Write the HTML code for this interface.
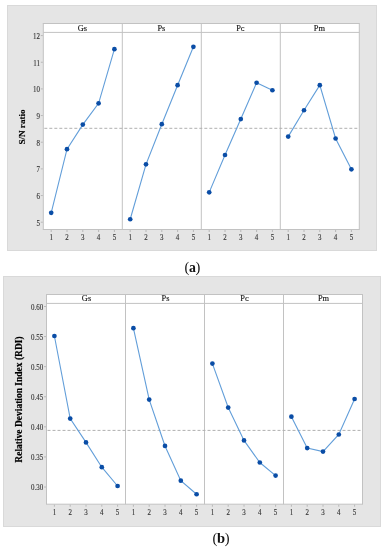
<!DOCTYPE html>
<html><head><meta charset="utf-8"><style>
html,body{margin:0;padding:0;background:#fff;width:387px;height:550px;overflow:hidden}
svg{display:block}
text{font-family:"Liberation Serif",serif}
</style></head><body>
<svg width="387" height="550" viewBox="0 0 387 550">
<rect width="387" height="550" fill="#fff"/>
<rect x="7" y="5" width="370" height="246" fill="#e5e5e5"/>
<rect x="7.5" y="5.5" width="369" height="245" fill="none" stroke="#d9d9d9" stroke-width="1"/>
<rect x="43.30" y="23.50" width="316.00" height="206.00" fill="#fff"/>
<line x1="42.80" y1="23.50" x2="359.80" y2="23.50" stroke="#c2c2c2" stroke-width="1"/>
<line x1="43.30" y1="32.40" x2="359.30" y2="32.40" stroke="#c2c2c2" stroke-width="1"/>
<line x1="42.80" y1="229.50" x2="359.80" y2="229.50" stroke="#c2c2c2" stroke-width="1"/>
<line x1="43.30" y1="23.50" x2="43.30" y2="229.50" stroke="#c2c2c2" stroke-width="1"/>
<line x1="122.30" y1="23.50" x2="122.30" y2="229.50" stroke="#c2c2c2" stroke-width="1"/>
<line x1="201.30" y1="23.50" x2="201.30" y2="229.50" stroke="#c2c2c2" stroke-width="1"/>
<line x1="280.30" y1="23.50" x2="280.30" y2="229.50" stroke="#c2c2c2" stroke-width="1"/>
<line x1="359.30" y1="23.50" x2="359.30" y2="229.50" stroke="#c2c2c2" stroke-width="1"/>
<line x1="40.80" y1="222.20" x2="42.80" y2="222.20" stroke="#b8b8b8" stroke-width="1"/>
<text transform="translate(40.00,225.60) scale(0.85,1)" text-anchor="end" font-size="8.2" fill="#333333" stroke="#333333" stroke-width="0.12">5</text>
<line x1="40.80" y1="195.54" x2="42.80" y2="195.54" stroke="#b8b8b8" stroke-width="1"/>
<text transform="translate(40.00,198.94) scale(0.85,1)" text-anchor="end" font-size="8.2" fill="#333333" stroke="#333333" stroke-width="0.12">6</text>
<line x1="40.80" y1="168.88" x2="42.80" y2="168.88" stroke="#b8b8b8" stroke-width="1"/>
<text transform="translate(40.00,172.28) scale(0.85,1)" text-anchor="end" font-size="8.2" fill="#333333" stroke="#333333" stroke-width="0.12">7</text>
<line x1="40.80" y1="142.22" x2="42.80" y2="142.22" stroke="#b8b8b8" stroke-width="1"/>
<text transform="translate(40.00,145.62) scale(0.85,1)" text-anchor="end" font-size="8.2" fill="#333333" stroke="#333333" stroke-width="0.12">8</text>
<line x1="40.80" y1="115.56" x2="42.80" y2="115.56" stroke="#b8b8b8" stroke-width="1"/>
<text transform="translate(40.00,118.96) scale(0.85,1)" text-anchor="end" font-size="8.2" fill="#333333" stroke="#333333" stroke-width="0.12">9</text>
<line x1="40.80" y1="88.90" x2="42.80" y2="88.90" stroke="#b8b8b8" stroke-width="1"/>
<text transform="translate(40.00,92.30) scale(0.85,1)" text-anchor="end" font-size="8.2" fill="#333333" stroke="#333333" stroke-width="0.12">10</text>
<line x1="40.80" y1="62.24" x2="42.80" y2="62.24" stroke="#b8b8b8" stroke-width="1"/>
<text transform="translate(40.00,65.64) scale(0.85,1)" text-anchor="end" font-size="8.2" fill="#333333" stroke="#333333" stroke-width="0.12">11</text>
<line x1="40.80" y1="35.58" x2="42.80" y2="35.58" stroke="#b8b8b8" stroke-width="1"/>
<text transform="translate(40.00,38.98) scale(0.85,1)" text-anchor="end" font-size="8.2" fill="#333333" stroke="#333333" stroke-width="0.12">12</text>
<text x="82.40" y="30.5" text-anchor="middle" font-size="8.4" fill="#1a1a1a" stroke="#1a1a1a" stroke-width="0.15">Gs</text>
<line x1="51.20" y1="230.00" x2="51.20" y2="232.00" stroke="#b8b8b8" stroke-width="1"/>
<text transform="translate(51.20,239.5) scale(0.88,1)" text-anchor="middle" font-size="7.9" fill="#333333" stroke="#333333" stroke-width="0.12">1</text>
<line x1="67.00" y1="230.00" x2="67.00" y2="232.00" stroke="#b8b8b8" stroke-width="1"/>
<text transform="translate(67.00,239.5) scale(0.88,1)" text-anchor="middle" font-size="7.9" fill="#333333" stroke="#333333" stroke-width="0.12">2</text>
<line x1="82.80" y1="230.00" x2="82.80" y2="232.00" stroke="#b8b8b8" stroke-width="1"/>
<text transform="translate(82.80,239.5) scale(0.88,1)" text-anchor="middle" font-size="7.9" fill="#333333" stroke="#333333" stroke-width="0.12">3</text>
<line x1="98.60" y1="230.00" x2="98.60" y2="232.00" stroke="#b8b8b8" stroke-width="1"/>
<text transform="translate(98.60,239.5) scale(0.88,1)" text-anchor="middle" font-size="7.9" fill="#333333" stroke="#333333" stroke-width="0.12">4</text>
<line x1="114.40" y1="230.00" x2="114.40" y2="232.00" stroke="#b8b8b8" stroke-width="1"/>
<text transform="translate(114.40,239.5) scale(0.88,1)" text-anchor="middle" font-size="7.9" fill="#333333" stroke="#333333" stroke-width="0.12">5</text>
<text x="161.40" y="30.5" text-anchor="middle" font-size="8.4" fill="#1a1a1a" stroke="#1a1a1a" stroke-width="0.15">Ps</text>
<line x1="130.20" y1="230.00" x2="130.20" y2="232.00" stroke="#b8b8b8" stroke-width="1"/>
<text transform="translate(130.20,239.5) scale(0.88,1)" text-anchor="middle" font-size="7.9" fill="#333333" stroke="#333333" stroke-width="0.12">1</text>
<line x1="146.00" y1="230.00" x2="146.00" y2="232.00" stroke="#b8b8b8" stroke-width="1"/>
<text transform="translate(146.00,239.5) scale(0.88,1)" text-anchor="middle" font-size="7.9" fill="#333333" stroke="#333333" stroke-width="0.12">2</text>
<line x1="161.80" y1="230.00" x2="161.80" y2="232.00" stroke="#b8b8b8" stroke-width="1"/>
<text transform="translate(161.80,239.5) scale(0.88,1)" text-anchor="middle" font-size="7.9" fill="#333333" stroke="#333333" stroke-width="0.12">3</text>
<line x1="177.60" y1="230.00" x2="177.60" y2="232.00" stroke="#b8b8b8" stroke-width="1"/>
<text transform="translate(177.60,239.5) scale(0.88,1)" text-anchor="middle" font-size="7.9" fill="#333333" stroke="#333333" stroke-width="0.12">4</text>
<line x1="193.40" y1="230.00" x2="193.40" y2="232.00" stroke="#b8b8b8" stroke-width="1"/>
<text transform="translate(193.40,239.5) scale(0.88,1)" text-anchor="middle" font-size="7.9" fill="#333333" stroke="#333333" stroke-width="0.12">5</text>
<text x="240.40" y="30.5" text-anchor="middle" font-size="8.4" fill="#1a1a1a" stroke="#1a1a1a" stroke-width="0.15">Pc</text>
<line x1="209.20" y1="230.00" x2="209.20" y2="232.00" stroke="#b8b8b8" stroke-width="1"/>
<text transform="translate(209.20,239.5) scale(0.88,1)" text-anchor="middle" font-size="7.9" fill="#333333" stroke="#333333" stroke-width="0.12">1</text>
<line x1="225.00" y1="230.00" x2="225.00" y2="232.00" stroke="#b8b8b8" stroke-width="1"/>
<text transform="translate(225.00,239.5) scale(0.88,1)" text-anchor="middle" font-size="7.9" fill="#333333" stroke="#333333" stroke-width="0.12">2</text>
<line x1="240.80" y1="230.00" x2="240.80" y2="232.00" stroke="#b8b8b8" stroke-width="1"/>
<text transform="translate(240.80,239.5) scale(0.88,1)" text-anchor="middle" font-size="7.9" fill="#333333" stroke="#333333" stroke-width="0.12">3</text>
<line x1="256.60" y1="230.00" x2="256.60" y2="232.00" stroke="#b8b8b8" stroke-width="1"/>
<text transform="translate(256.60,239.5) scale(0.88,1)" text-anchor="middle" font-size="7.9" fill="#333333" stroke="#333333" stroke-width="0.12">4</text>
<line x1="272.40" y1="230.00" x2="272.40" y2="232.00" stroke="#b8b8b8" stroke-width="1"/>
<text transform="translate(272.40,239.5) scale(0.88,1)" text-anchor="middle" font-size="7.9" fill="#333333" stroke="#333333" stroke-width="0.12">5</text>
<text x="319.40" y="30.5" text-anchor="middle" font-size="8.4" fill="#1a1a1a" stroke="#1a1a1a" stroke-width="0.15">Pm</text>
<line x1="288.20" y1="230.00" x2="288.20" y2="232.00" stroke="#b8b8b8" stroke-width="1"/>
<text transform="translate(288.20,239.5) scale(0.88,1)" text-anchor="middle" font-size="7.9" fill="#333333" stroke="#333333" stroke-width="0.12">1</text>
<line x1="304.00" y1="230.00" x2="304.00" y2="232.00" stroke="#b8b8b8" stroke-width="1"/>
<text transform="translate(304.00,239.5) scale(0.88,1)" text-anchor="middle" font-size="7.9" fill="#333333" stroke="#333333" stroke-width="0.12">2</text>
<line x1="319.80" y1="230.00" x2="319.80" y2="232.00" stroke="#b8b8b8" stroke-width="1"/>
<text transform="translate(319.80,239.5) scale(0.88,1)" text-anchor="middle" font-size="7.9" fill="#333333" stroke="#333333" stroke-width="0.12">3</text>
<line x1="335.60" y1="230.00" x2="335.60" y2="232.00" stroke="#b8b8b8" stroke-width="1"/>
<text transform="translate(335.60,239.5) scale(0.88,1)" text-anchor="middle" font-size="7.9" fill="#333333" stroke="#333333" stroke-width="0.12">4</text>
<line x1="351.40" y1="230.00" x2="351.40" y2="232.00" stroke="#b8b8b8" stroke-width="1"/>
<text transform="translate(351.40,239.5) scale(0.88,1)" text-anchor="middle" font-size="7.9" fill="#333333" stroke="#333333" stroke-width="0.12">5</text>
<line x1="44.30" y1="128.30" x2="358.30" y2="128.30" stroke="#b0b0b0" stroke-width="1" stroke-dasharray="3 2"/>
<polyline points="51.20,212.87 67.00,149.15 82.80,124.62 98.60,103.30 114.40,49.18" fill="none" stroke="#629ed9" stroke-width="1.1"/>
<polyline points="130.20,219.27 146.00,164.35 161.80,124.22 177.60,85.17 193.40,46.78" fill="none" stroke="#629ed9" stroke-width="1.1"/>
<polyline points="209.20,192.34 225.00,155.02 240.80,119.03 256.60,82.77 272.40,90.23" fill="none" stroke="#629ed9" stroke-width="1.1"/>
<polyline points="288.20,136.62 304.00,110.23 319.80,85.17 335.60,138.49 351.40,169.28" fill="none" stroke="#629ed9" stroke-width="1.1"/>
<circle cx="51.20" cy="212.87" r="2.35" fill="#0a4da6"/>
<circle cx="67.00" cy="149.15" r="2.35" fill="#0a4da6"/>
<circle cx="82.80" cy="124.62" r="2.35" fill="#0a4da6"/>
<circle cx="98.60" cy="103.30" r="2.35" fill="#0a4da6"/>
<circle cx="114.40" cy="49.18" r="2.35" fill="#0a4da6"/>
<circle cx="130.20" cy="219.27" r="2.35" fill="#0a4da6"/>
<circle cx="146.00" cy="164.35" r="2.35" fill="#0a4da6"/>
<circle cx="161.80" cy="124.22" r="2.35" fill="#0a4da6"/>
<circle cx="177.60" cy="85.17" r="2.35" fill="#0a4da6"/>
<circle cx="193.40" cy="46.78" r="2.35" fill="#0a4da6"/>
<circle cx="209.20" cy="192.34" r="2.35" fill="#0a4da6"/>
<circle cx="225.00" cy="155.02" r="2.35" fill="#0a4da6"/>
<circle cx="240.80" cy="119.03" r="2.35" fill="#0a4da6"/>
<circle cx="256.60" cy="82.77" r="2.35" fill="#0a4da6"/>
<circle cx="272.40" cy="90.23" r="2.35" fill="#0a4da6"/>
<circle cx="288.20" cy="136.62" r="2.35" fill="#0a4da6"/>
<circle cx="304.00" cy="110.23" r="2.35" fill="#0a4da6"/>
<circle cx="319.80" cy="85.17" r="2.35" fill="#0a4da6"/>
<circle cx="335.60" cy="138.49" r="2.35" fill="#0a4da6"/>
<circle cx="351.40" cy="169.28" r="2.35" fill="#0a4da6"/>
<text transform="translate(24.5,127) rotate(-90)" text-anchor="middle" font-size="9.1" font-weight="bold" fill="#000" stroke="#000" stroke-width="0.15">S/N ratio</text>
<rect x="3" y="276" width="378" height="251" fill="#e5e5e5"/>
<rect x="3.5" y="276.5" width="377" height="250" fill="none" stroke="#d9d9d9" stroke-width="1"/>
<rect x="46.50" y="294.50" width="316.00" height="209.70" fill="#fff"/>
<line x1="46.00" y1="294.50" x2="363.00" y2="294.50" stroke="#c2c2c2" stroke-width="1"/>
<line x1="46.50" y1="303.40" x2="362.50" y2="303.40" stroke="#c2c2c2" stroke-width="1"/>
<line x1="46.00" y1="504.20" x2="363.00" y2="504.20" stroke="#c2c2c2" stroke-width="1"/>
<line x1="46.50" y1="294.50" x2="46.50" y2="504.20" stroke="#c2c2c2" stroke-width="1"/>
<line x1="125.50" y1="294.50" x2="125.50" y2="504.20" stroke="#c2c2c2" stroke-width="1"/>
<line x1="204.50" y1="294.50" x2="204.50" y2="504.20" stroke="#c2c2c2" stroke-width="1"/>
<line x1="283.50" y1="294.50" x2="283.50" y2="504.20" stroke="#c2c2c2" stroke-width="1"/>
<line x1="362.50" y1="294.50" x2="362.50" y2="504.20" stroke="#c2c2c2" stroke-width="1"/>
<line x1="44.00" y1="487.01" x2="46.00" y2="487.01" stroke="#b8b8b8" stroke-width="1"/>
<text transform="translate(43.20,490.01) scale(0.85,1)" text-anchor="end" font-size="8.2" fill="#333333" stroke="#333333" stroke-width="0.12">0.30</text>
<line x1="44.00" y1="456.93" x2="46.00" y2="456.93" stroke="#b8b8b8" stroke-width="1"/>
<text transform="translate(43.20,459.93) scale(0.85,1)" text-anchor="end" font-size="8.2" fill="#333333" stroke="#333333" stroke-width="0.12">0.35</text>
<line x1="44.00" y1="426.84" x2="46.00" y2="426.84" stroke="#b8b8b8" stroke-width="1"/>
<text transform="translate(43.20,429.84) scale(0.85,1)" text-anchor="end" font-size="8.2" fill="#333333" stroke="#333333" stroke-width="0.12">0.40</text>
<line x1="44.00" y1="396.75" x2="46.00" y2="396.75" stroke="#b8b8b8" stroke-width="1"/>
<text transform="translate(43.20,399.75) scale(0.85,1)" text-anchor="end" font-size="8.2" fill="#333333" stroke="#333333" stroke-width="0.12">0.45</text>
<line x1="44.00" y1="366.67" x2="46.00" y2="366.67" stroke="#b8b8b8" stroke-width="1"/>
<text transform="translate(43.20,369.67) scale(0.85,1)" text-anchor="end" font-size="8.2" fill="#333333" stroke="#333333" stroke-width="0.12">0.50</text>
<line x1="44.00" y1="336.58" x2="46.00" y2="336.58" stroke="#b8b8b8" stroke-width="1"/>
<text transform="translate(43.20,339.58) scale(0.85,1)" text-anchor="end" font-size="8.2" fill="#333333" stroke="#333333" stroke-width="0.12">0.55</text>
<line x1="44.00" y1="306.50" x2="46.00" y2="306.50" stroke="#b8b8b8" stroke-width="1"/>
<text transform="translate(43.20,309.50) scale(0.85,1)" text-anchor="end" font-size="8.2" fill="#333333" stroke="#333333" stroke-width="0.12">0.60</text>
<text x="86.50" y="301.0" text-anchor="middle" font-size="8.4" fill="#1a1a1a" stroke="#1a1a1a" stroke-width="0.15">Gs</text>
<line x1="54.40" y1="504.70" x2="54.40" y2="506.70" stroke="#b8b8b8" stroke-width="1"/>
<text transform="translate(54.40,514.5) scale(0.88,1)" text-anchor="middle" font-size="7.9" fill="#333333" stroke="#333333" stroke-width="0.12">1</text>
<line x1="70.20" y1="504.70" x2="70.20" y2="506.70" stroke="#b8b8b8" stroke-width="1"/>
<text transform="translate(70.20,514.5) scale(0.88,1)" text-anchor="middle" font-size="7.9" fill="#333333" stroke="#333333" stroke-width="0.12">2</text>
<line x1="86.00" y1="504.70" x2="86.00" y2="506.70" stroke="#b8b8b8" stroke-width="1"/>
<text transform="translate(86.00,514.5) scale(0.88,1)" text-anchor="middle" font-size="7.9" fill="#333333" stroke="#333333" stroke-width="0.12">3</text>
<line x1="101.80" y1="504.70" x2="101.80" y2="506.70" stroke="#b8b8b8" stroke-width="1"/>
<text transform="translate(101.80,514.5) scale(0.88,1)" text-anchor="middle" font-size="7.9" fill="#333333" stroke="#333333" stroke-width="0.12">4</text>
<line x1="117.60" y1="504.70" x2="117.60" y2="506.70" stroke="#b8b8b8" stroke-width="1"/>
<text transform="translate(117.60,514.5) scale(0.88,1)" text-anchor="middle" font-size="7.9" fill="#333333" stroke="#333333" stroke-width="0.12">5</text>
<text x="165.50" y="301.0" text-anchor="middle" font-size="8.4" fill="#1a1a1a" stroke="#1a1a1a" stroke-width="0.15">Ps</text>
<line x1="133.40" y1="504.70" x2="133.40" y2="506.70" stroke="#b8b8b8" stroke-width="1"/>
<text transform="translate(133.40,514.5) scale(0.88,1)" text-anchor="middle" font-size="7.9" fill="#333333" stroke="#333333" stroke-width="0.12">1</text>
<line x1="149.20" y1="504.70" x2="149.20" y2="506.70" stroke="#b8b8b8" stroke-width="1"/>
<text transform="translate(149.20,514.5) scale(0.88,1)" text-anchor="middle" font-size="7.9" fill="#333333" stroke="#333333" stroke-width="0.12">2</text>
<line x1="165.00" y1="504.70" x2="165.00" y2="506.70" stroke="#b8b8b8" stroke-width="1"/>
<text transform="translate(165.00,514.5) scale(0.88,1)" text-anchor="middle" font-size="7.9" fill="#333333" stroke="#333333" stroke-width="0.12">3</text>
<line x1="180.80" y1="504.70" x2="180.80" y2="506.70" stroke="#b8b8b8" stroke-width="1"/>
<text transform="translate(180.80,514.5) scale(0.88,1)" text-anchor="middle" font-size="7.9" fill="#333333" stroke="#333333" stroke-width="0.12">4</text>
<line x1="196.60" y1="504.70" x2="196.60" y2="506.70" stroke="#b8b8b8" stroke-width="1"/>
<text transform="translate(196.60,514.5) scale(0.88,1)" text-anchor="middle" font-size="7.9" fill="#333333" stroke="#333333" stroke-width="0.12">5</text>
<text x="244.50" y="301.0" text-anchor="middle" font-size="8.4" fill="#1a1a1a" stroke="#1a1a1a" stroke-width="0.15">Pc</text>
<line x1="212.40" y1="504.70" x2="212.40" y2="506.70" stroke="#b8b8b8" stroke-width="1"/>
<text transform="translate(212.40,514.5) scale(0.88,1)" text-anchor="middle" font-size="7.9" fill="#333333" stroke="#333333" stroke-width="0.12">1</text>
<line x1="228.20" y1="504.70" x2="228.20" y2="506.70" stroke="#b8b8b8" stroke-width="1"/>
<text transform="translate(228.20,514.5) scale(0.88,1)" text-anchor="middle" font-size="7.9" fill="#333333" stroke="#333333" stroke-width="0.12">2</text>
<line x1="244.00" y1="504.70" x2="244.00" y2="506.70" stroke="#b8b8b8" stroke-width="1"/>
<text transform="translate(244.00,514.5) scale(0.88,1)" text-anchor="middle" font-size="7.9" fill="#333333" stroke="#333333" stroke-width="0.12">3</text>
<line x1="259.80" y1="504.70" x2="259.80" y2="506.70" stroke="#b8b8b8" stroke-width="1"/>
<text transform="translate(259.80,514.5) scale(0.88,1)" text-anchor="middle" font-size="7.9" fill="#333333" stroke="#333333" stroke-width="0.12">4</text>
<line x1="275.60" y1="504.70" x2="275.60" y2="506.70" stroke="#b8b8b8" stroke-width="1"/>
<text transform="translate(275.60,514.5) scale(0.88,1)" text-anchor="middle" font-size="7.9" fill="#333333" stroke="#333333" stroke-width="0.12">5</text>
<text x="323.50" y="301.0" text-anchor="middle" font-size="8.4" fill="#1a1a1a" stroke="#1a1a1a" stroke-width="0.15">Pm</text>
<line x1="291.40" y1="504.70" x2="291.40" y2="506.70" stroke="#b8b8b8" stroke-width="1"/>
<text transform="translate(291.40,514.5) scale(0.88,1)" text-anchor="middle" font-size="7.9" fill="#333333" stroke="#333333" stroke-width="0.12">1</text>
<line x1="307.20" y1="504.70" x2="307.20" y2="506.70" stroke="#b8b8b8" stroke-width="1"/>
<text transform="translate(307.20,514.5) scale(0.88,1)" text-anchor="middle" font-size="7.9" fill="#333333" stroke="#333333" stroke-width="0.12">2</text>
<line x1="323.00" y1="504.70" x2="323.00" y2="506.70" stroke="#b8b8b8" stroke-width="1"/>
<text transform="translate(323.00,514.5) scale(0.88,1)" text-anchor="middle" font-size="7.9" fill="#333333" stroke="#333333" stroke-width="0.12">3</text>
<line x1="338.80" y1="504.70" x2="338.80" y2="506.70" stroke="#b8b8b8" stroke-width="1"/>
<text transform="translate(338.80,514.5) scale(0.88,1)" text-anchor="middle" font-size="7.9" fill="#333333" stroke="#333333" stroke-width="0.12">4</text>
<line x1="354.60" y1="504.70" x2="354.60" y2="506.70" stroke="#b8b8b8" stroke-width="1"/>
<text transform="translate(354.60,514.5) scale(0.88,1)" text-anchor="middle" font-size="7.9" fill="#333333" stroke="#333333" stroke-width="0.12">5</text>
<line x1="47.50" y1="430.40" x2="361.50" y2="430.40" stroke="#b0b0b0" stroke-width="1" stroke-dasharray="3 2"/>
<polyline points="54.40,335.98 70.20,418.60 86.00,442.42 101.80,467.21 117.60,485.99" fill="none" stroke="#629ed9" stroke-width="1.1"/>
<polyline points="133.40,328.16 149.20,399.58 165.00,445.97 180.80,480.69 196.60,494.23" fill="none" stroke="#629ed9" stroke-width="1.1"/>
<polyline points="212.40,363.60 228.20,407.53 244.00,440.38 259.80,462.52 275.60,475.58" fill="none" stroke="#629ed9" stroke-width="1.1"/>
<polyline points="291.40,416.67 307.20,448.08 323.00,451.57 338.80,434.48 354.60,398.98" fill="none" stroke="#629ed9" stroke-width="1.1"/>
<circle cx="54.40" cy="335.98" r="2.35" fill="#0a4da6"/>
<circle cx="70.20" cy="418.60" r="2.35" fill="#0a4da6"/>
<circle cx="86.00" cy="442.42" r="2.35" fill="#0a4da6"/>
<circle cx="101.80" cy="467.21" r="2.35" fill="#0a4da6"/>
<circle cx="117.60" cy="485.99" r="2.35" fill="#0a4da6"/>
<circle cx="133.40" cy="328.16" r="2.35" fill="#0a4da6"/>
<circle cx="149.20" cy="399.58" r="2.35" fill="#0a4da6"/>
<circle cx="165.00" cy="445.97" r="2.35" fill="#0a4da6"/>
<circle cx="180.80" cy="480.69" r="2.35" fill="#0a4da6"/>
<circle cx="196.60" cy="494.23" r="2.35" fill="#0a4da6"/>
<circle cx="212.40" cy="363.60" r="2.35" fill="#0a4da6"/>
<circle cx="228.20" cy="407.53" r="2.35" fill="#0a4da6"/>
<circle cx="244.00" cy="440.38" r="2.35" fill="#0a4da6"/>
<circle cx="259.80" cy="462.52" r="2.35" fill="#0a4da6"/>
<circle cx="275.60" cy="475.58" r="2.35" fill="#0a4da6"/>
<circle cx="291.40" cy="416.67" r="2.35" fill="#0a4da6"/>
<circle cx="307.20" cy="448.08" r="2.35" fill="#0a4da6"/>
<circle cx="323.00" cy="451.57" r="2.35" fill="#0a4da6"/>
<circle cx="338.80" cy="434.48" r="2.35" fill="#0a4da6"/>
<circle cx="354.60" cy="398.98" r="2.35" fill="#0a4da6"/>
<text transform="translate(22.3,399.5) rotate(-90)" text-anchor="middle" font-size="9.5" font-weight="bold" fill="#000" stroke="#000" stroke-width="0.15">Relative Deviation Index (RDI)</text>
<text x="192.3" y="271.6" text-anchor="middle" font-size="14.5" letter-spacing="-0.3" fill="#111">(<tspan font-weight="bold" font-size="13.8">a</tspan>)</text>
<text x="220.8" y="543" text-anchor="middle" font-size="14.5" letter-spacing="-0.3" fill="#111">(<tspan font-weight="bold">b</tspan>)</text>
</svg>
</body></html>
